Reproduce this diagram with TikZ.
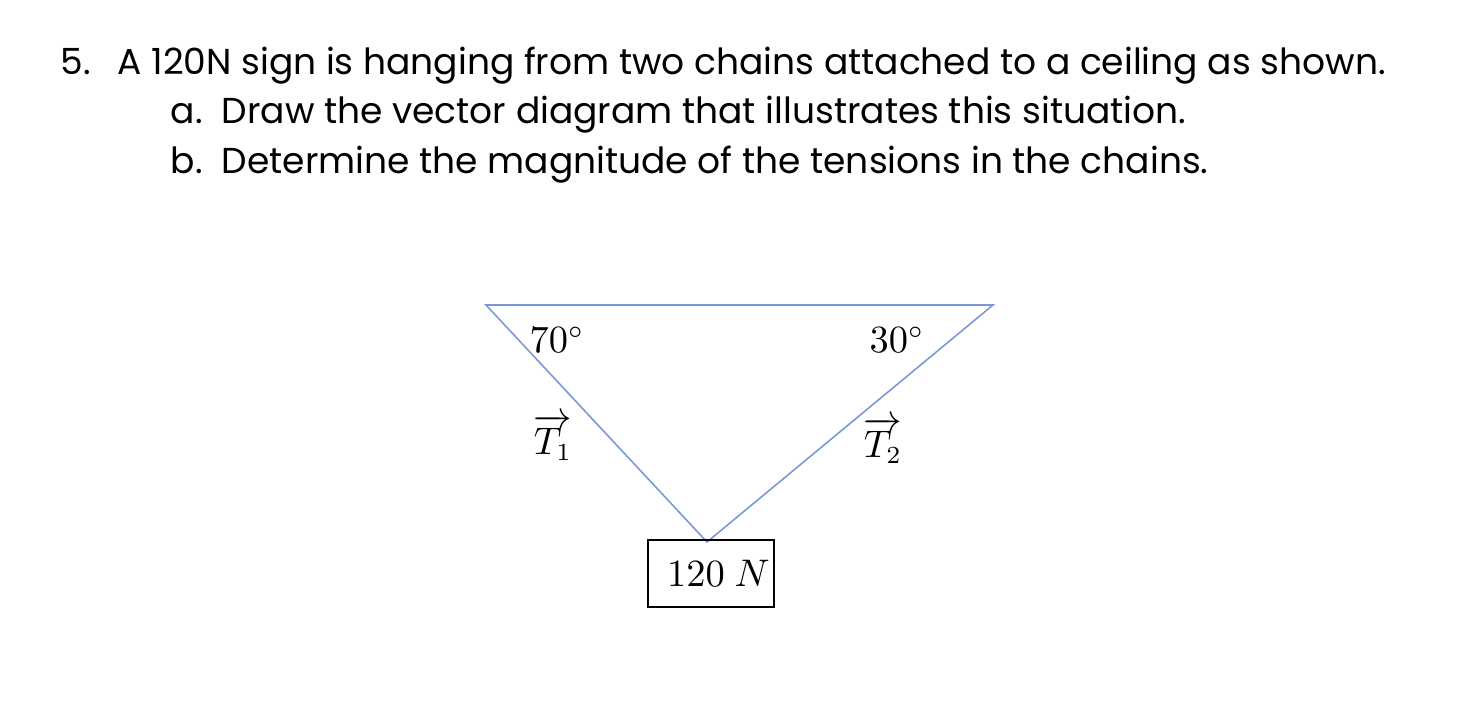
\documentclass[tikz,border=0pt]{standalone}
\usepackage{fontspec}
\setmainfont{Poppins}
\usepackage{amsmath}
\usepackage{xcolor}
\usepackage{tikz}
\usetikzlibrary{positioning}
\definecolor{chainblue}{RGB}{122,152,212}
\newcommand{\qfont}{\fontsize{10.25}{12}\selectfont}
\newcommand{\lfont}{\fontsize{10.5}{12}\selectfont}

\begin{document}
\begin{tikzpicture}[every node/.style={font=\qfont}]
\useasboundingbox (0,0) rectangle (14.66,7.12);
% Question
\node[anchor=base west, inner sep=0] (num) at (0.60,6.38) {5.};
\node[anchor=base west, inner sep=0] (q) at (1.17,6.38) {A 120N sign is hanging from two chains attached to a ceiling as shown.};
\node[anchor=base west, inner sep=0] (qa) at (1.70,5.89) {a.\ \ Draw the vector diagram that illustrates this situation.};
\node[anchor=base west, inner sep=0] (qb) at (1.70,5.39) {b.\ \ Determine the magnitude of the tensions in the chains.};

% Ceiling and chains
\coordinate (L) at (4.86,4.07);
\coordinate (R) at (9.93,4.07);
\coordinate (knot) at (7.07,1.70);
\draw[chainblue, line width=0.45pt] (L) -- (R) -- (knot) -- cycle;

% Sign
\node[draw, line width=0.6pt, inner xsep=0.5pt, minimum width=1.26cm, minimum height=0.67cm, font=\lfont] (sign) at (7.11,1.385) {\hspace{0.15cm}$120\ N$};

% Labels
\node[font=\lfont] (a70) at (5.57,3.72) {$70^\circ$};
\node[font=\lfont] (a30) at (8.97,3.72) {$30^\circ$};
\node[font=\lfont] (T1) at (5.53,2.75) {$\overrightarrow{T_1}$};
\node[font=\lfont] (T2) at (8.83,2.72) {$\overrightarrow{T_2}$};
\end{tikzpicture}
\end{document}
